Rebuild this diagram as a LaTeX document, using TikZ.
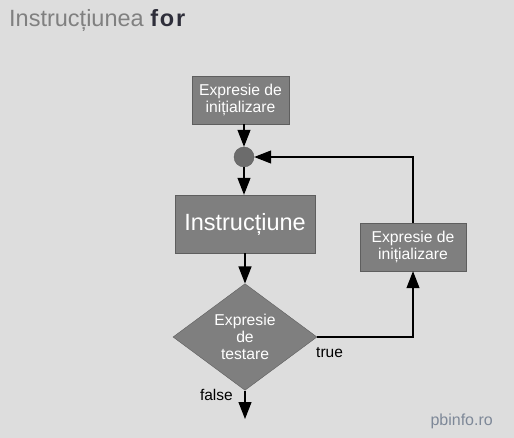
\documentclass[tikz,border=0pt]{standalone}
\usepackage{fontspec}
\setmainfont{Liberation Sans}
\newfontfamily\forfont[LetterSpace=8]{Liberation Sans}
\usepackage{tikz}
\usetikzlibrary{arrows.meta, shapes.geometric}
\definecolor{bggray}{HTML}{DDDDDD}
\definecolor{boxfill}{HTML}{7F7F7F}
\definecolor{boxline}{HTML}{5E5E5E}
\definecolor{titlegray}{HTML}{808080}
\definecolor{fordark}{HTML}{2E2E3A}
\definecolor{signgray}{HTML}{7E8898}

\begin{document}
\begin{tikzpicture}[x=1pt, y=-1pt,
    box/.style={rectangle, draw=boxline, fill=boxfill, text=white, inner sep=0pt,
        align=center, font=\fontsize{15.7}{17.5}\selectfont},
    arr/.style={-{Triangle[length=17pt, width=13pt]}, line width=1.2pt},
    lbl/.style={font=\fontsize{15.5}{17}\selectfont, inner sep=0pt}]
        \fill[bggray] (0,0) rectangle (514,438);
        \useasboundingbox (0,0) rectangle (514,438);
        % Title
        \node[anchor=base west, inner sep=0pt, text=titlegray, font=\fontsize{23.5}{26}\selectfont]
            (title) at (9,27) {Instrucțiunea {\forfont\bfseries\color{fordark}for}};
        % Flow chart
        \node[box, minimum width=97, minimum height=48] (init) at (240.5,100) {Expresie de\\inițializare};
        \node[circle, draw=boxline, fill=boxfill!85!black, minimum size=20, inner sep=0pt] (join) at (244,157) {};
        \node[box, minimum width=140, minimum height=58, font=\fontsize{23.5}{26}\selectfont] (instr) at (245,224) {Instrucțiune};
        \node[diamond, draw=boxline, fill=boxfill, text=white, minimum width=144, minimum height=100,
            inner sep=0pt, align=center, font=\fontsize{15.7}{17}\selectfont] (test) at (245,337) {Expresie\\de\\testare};
        \node[box, minimum width=106, minimum height=48] (upd) at (413,247) {Expresie de\\inițializare};
        \coordinate (exit) at (245,419);
        \draw[arr] (init.south -| join) -- (join);
        \draw[arr] (join) -- (join |- instr.north);
        \draw[arr] (instr.south -| test) -- (test.north);
        \draw[arr] (test.east) -| (upd.south);
        \draw[arr] (upd.north) |- (join.east);
        \draw[arr] (test.south) -- (exit);
        \node[lbl, anchor=west] (true) at (316,353) {true};
        \node[lbl, anchor=east] (false) at (233,395) {false};
        \node[lbl, anchor=east, text=signgray, font=\fontsize{16}{18}\selectfont] (sign) at (493,421) {pbinfo.ro};
    \end{tikzpicture}
\end{document}
